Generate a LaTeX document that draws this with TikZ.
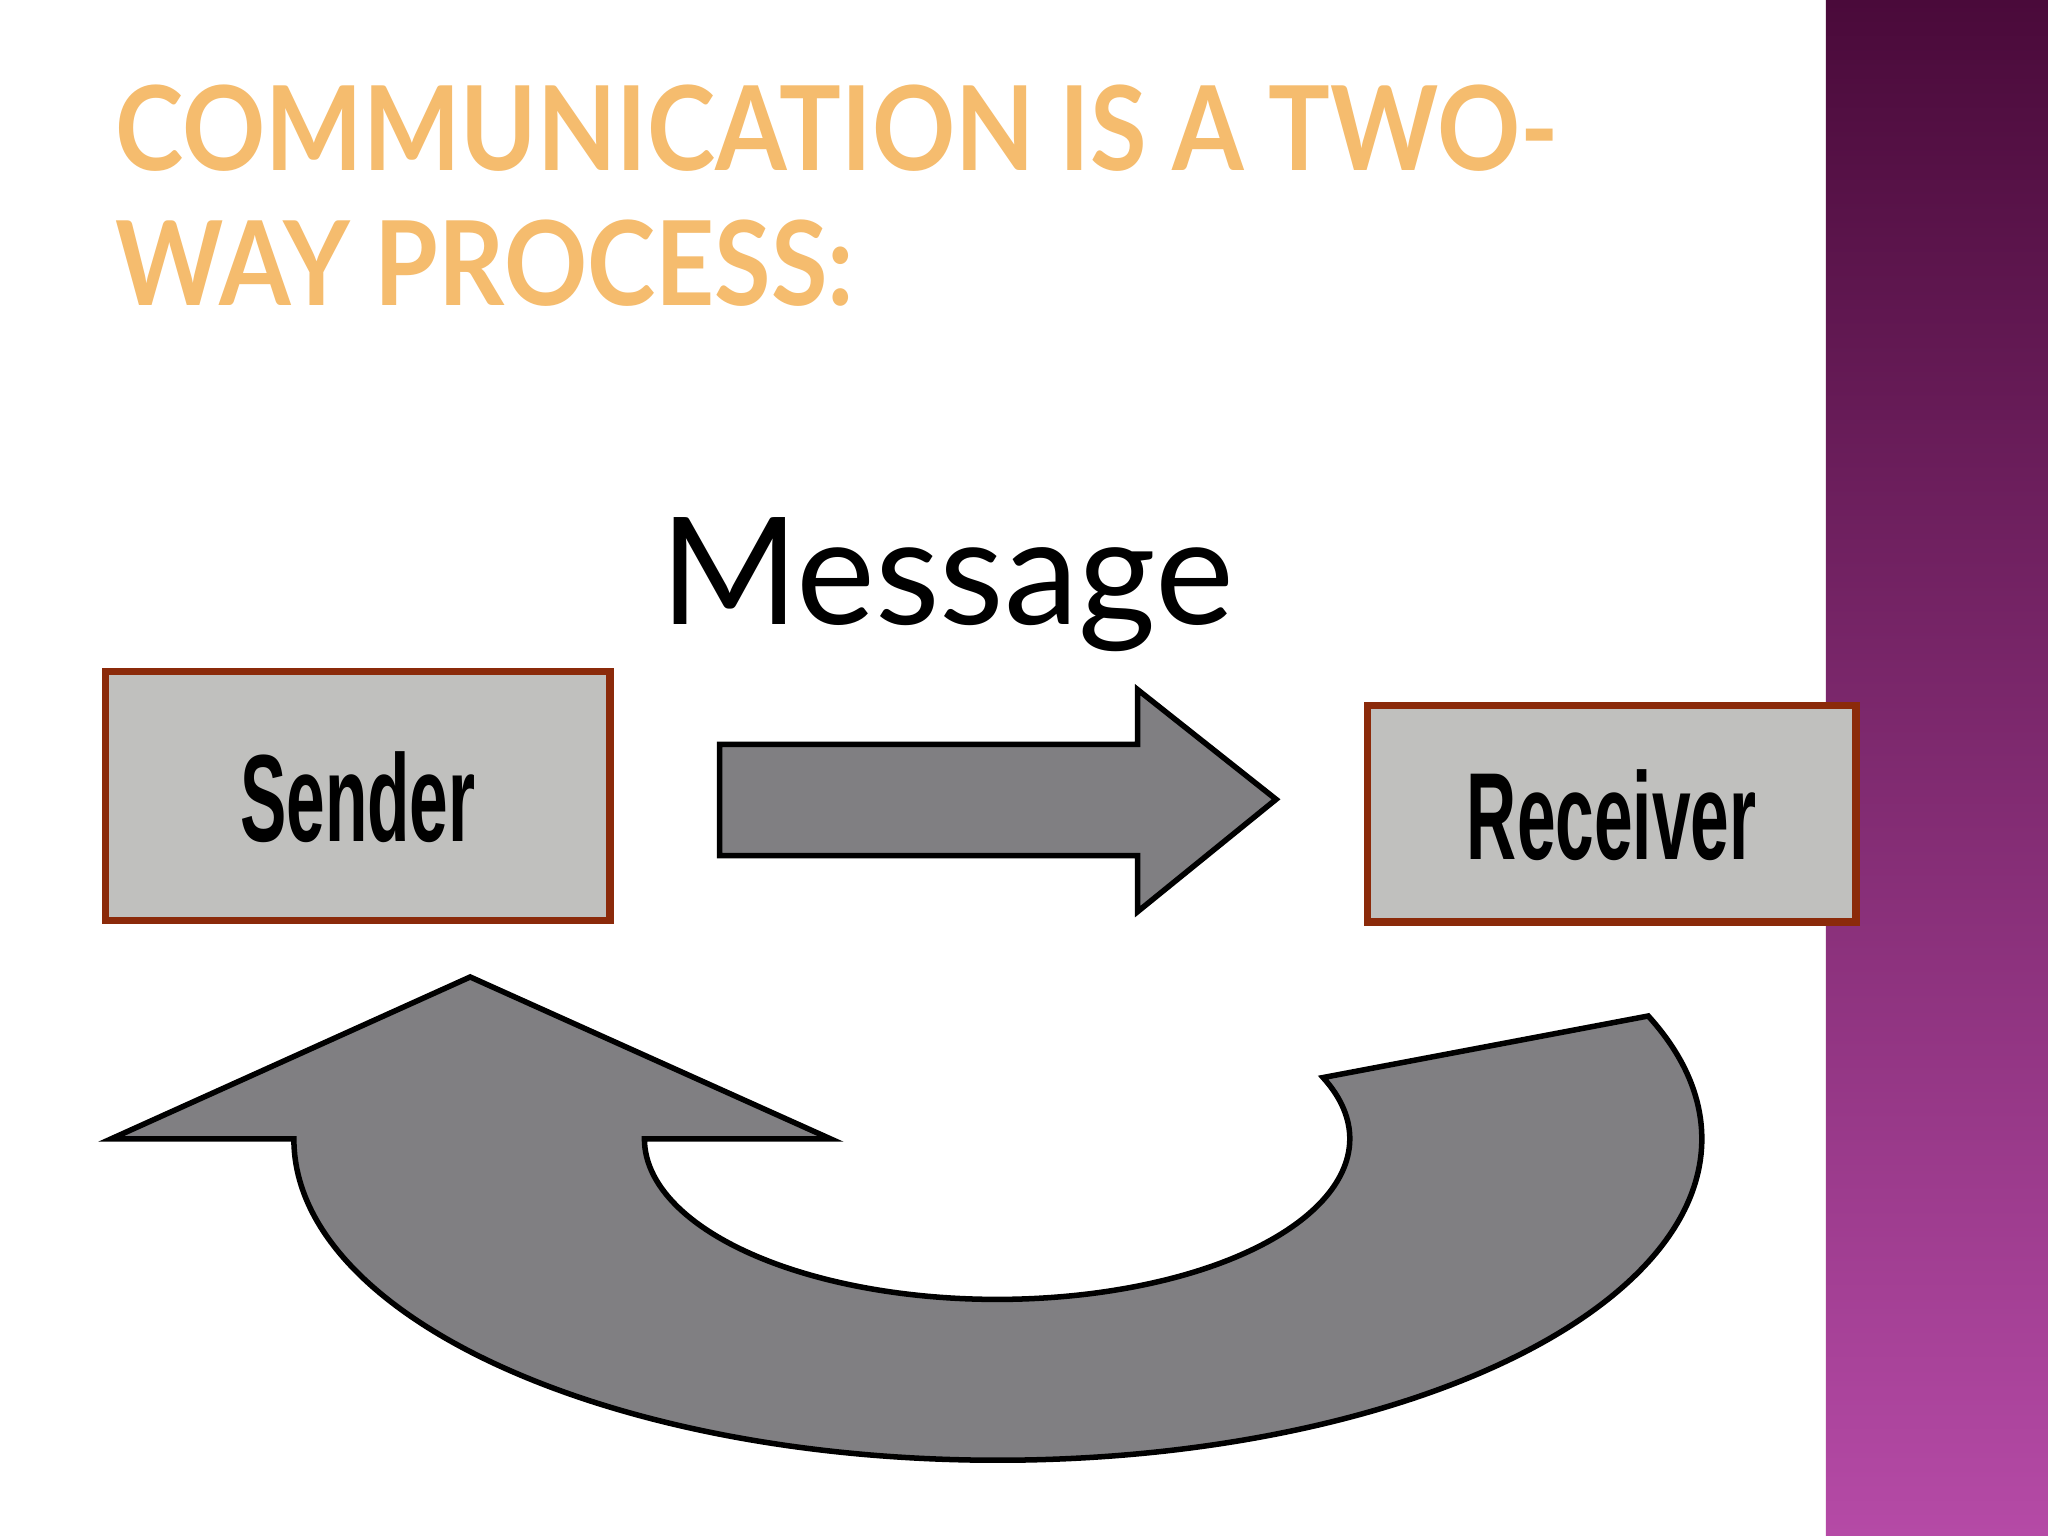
\documentclass[tikz,border=0pt]{standalone}
\usepackage{fontspec}
\setmainfont{Lato}
\newfontfamily\arialf{Liberation Sans}
\usetikzlibrary{shadings}
\definecolor{boxfill}{HTML}{C0C0BE}
\definecolor{boxline}{HTML}{8B2A0A}
\definecolor{arrfill}{HTML}{807F82}
\definecolor{titleor}{HTML}{F5BC6E}
\definecolor{purtop}{HTML}{4A0A3A}
\definecolor{purbot}{HTML}{B54AA6}
\tikzset{
  box/.style={draw=boxline,line width=1.6pt,fill=boxfill},
  arr/.style={draw=black,line width=1.2pt,fill=arrfill,line join=miter},
  boxtext/.style={font=\arialf\bfseries\fontsize{27}{30}\selectfont,xscale=0.56},
}
\begin{document}
\begin{tikzpicture}[x=0.01cm,y=-0.01cm]
\useasboundingbox (0,0) rectangle (1568,1176);
\fill[white] (0,0) rectangle (1568,1176);
\shade[top color=purtop,bottom color=purbot] (1398,0) rectangle (1568,1176);
\node[anchor=north west,inner sep=0,align=left,text=titleor,xscale=0.88,font=\bfseries\fontsize{25.5}{29.5}\selectfont] (title) at (88,64) {COMMUNICATION IS A TWO-\\WAY PROCESS:};
\node[anchor=base,inner sep=0,font=\fontsize{32.5}{36}\selectfont] (msg) at (725,478) {Message};
\path[box] (81,514) rectangle (467,705);
\node[boxtext] (sender) at (274,610) {Sender};
\path[box] (1047,540) rectangle (1421,706);
\node[boxtext] (receiver) at (1234,624) {Receiver};
\path[arr] (551,570) -- (871,570) -- (871,528) -- (977,612) -- (871,698) -- (871,655) -- (551,655) -- cycle;
\path[arr] (225,872) arc[start angle=180,end angle=-22.5,x radius=539,y radius=246]
  -- (1013,825) arc[start angle=-22.4,end angle=180,x radius=270,y radius=123]
  -- (636,872) -- (360,748) -- (85,872) -- cycle;
\end{tikzpicture}
\end{document}
